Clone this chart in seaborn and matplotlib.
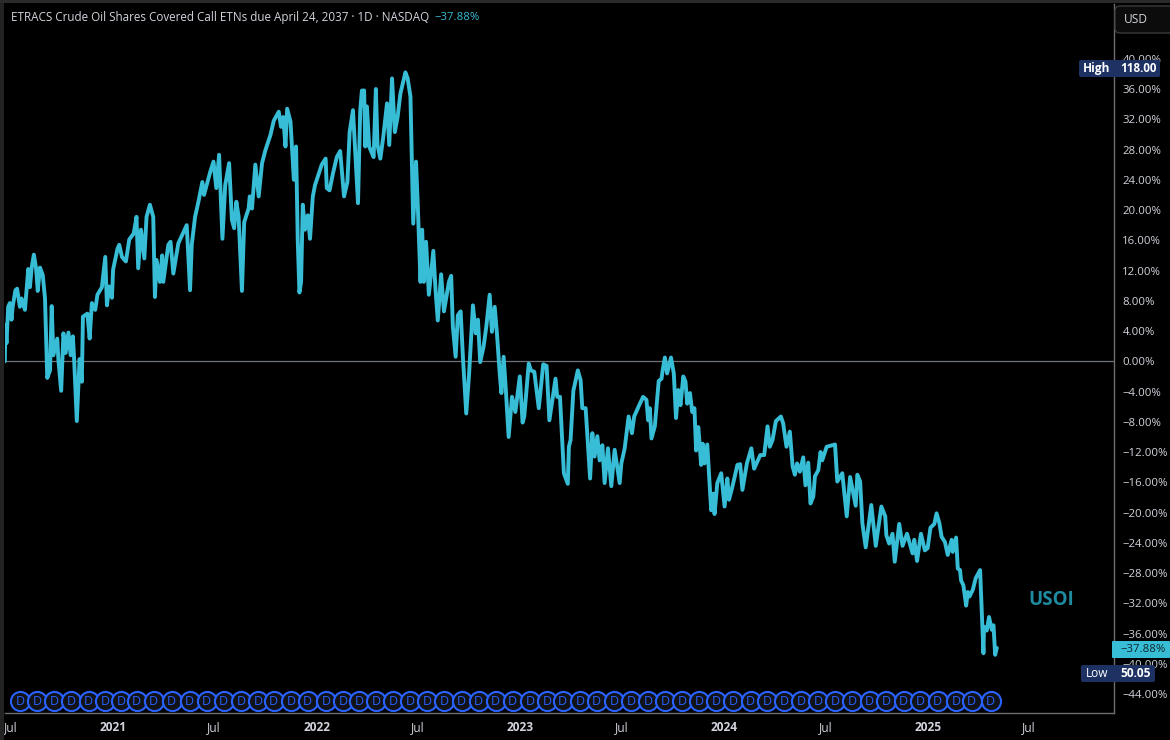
import pandas as pd
import matplotlib
matplotlib.use("Agg")
import matplotlib.pyplot as plt
import matplotlib.dates as mdates
from matplotlib.patches import FancyBboxPatch, Rectangle
from matplotlib.transforms import IdentityTransform
import seaborn as sns

# days since 2021-01-01
days = [-194,-193,-191,-188,-185,-182,-180,-175,-172,-167,-164,-158,-152,-149,-146,-142,-138,-135,-131,-126,-122,-118,-113,-110,-107,-100,-98,-93,-89,-85,-80,-76,-72,-70,-65,-60,-56,-54,-46,-42,-38,-32,-28,-20,-14,-11,-7,-2,0,8,11,16,23,29,
 37,42,45,50,56,60,66,72,75,78,84,88,90,99,103,108,117,132,138,141,147,153,160,163,174,180,185,190,196,201,208,213,217,221,225,231,235,243,245,249,255,261,267,273,282,288,297,301,305,309,312,318,324,328,331,334,
 337,340,344,349,353,358,362,374,381,383,388,394,401,407,414,420,424,430,439,443,446,450,452,455,459,464,467,471,474,479,484,491,495,500,505,510,515,524,528,533,538,543,546,551,554,557,561,566,
 574,578,582,588,593,602,606,609,614,618,623,627,633,638,645,650,654,658,664,669,675,679,684,688,693,696,700,704,709,715,721,729,734,737,745,749,755,763,771,777,782,793,796,801,808,815,817,820,825,833,838,841,847,855,859,863,868,872,877,881,887,893,899,908,911,917,924,930,934,943,950,956,959,962,965,971,978,
 983,985,989,993,1000,1005,1009,1013,1017,1022,1026,1029,1034,1038,1042,1045,1049,1054,1057,1060,1065,1068,1072,1076,1078,1083,1090,1096,1101,1104,1110,1119,1124,1128,1136,1144,1149,1160,1167,1173,1177,1182,1188,1197,1201,1207,1213,1218,1222,1226,1231,1237,1241,1246,1250,1255,1258,1264,
 1268,1271,1279,1294,1298,1307,1315,1321,1331,1334,1339,1343,1349,1359,1367,1377,1384,1386,1391,1397,1401,1409,1415,1423,1433,1436,1441,1448,1455,1460,1465,1472,1476,1481,1485,1491,1496,1503,1505,1511,1514,1518,1520,1524,1529,1532,1535,1541,1546,1554,1560,1561,1566,1570,1575,1578,1581,1584]

change_pct = [0,4.8,2.4,7.2,7.7,5.5,7.2,9.4,9.6,7.2,8.3,6.8,12.2,9.8,12.3,14.1,12.3,9.3,12.4,11.4,8.3,-2.2,-1.2,7.3,.8,3,.2,-3.9,3.7,1.1,3.8,.8,3.3,.6,-7.9,.3,-2.7,5.9,6.3,3,7.7,6.8,8.8,9.8,13.8,7.4,9.9,8.4,12.1,14.9,15.4,13.8,13.2,16.1,
 16.9,19.1,12.3,17.4,13.6,19.1,20.7,19.1,8.5,13.4,10.5,14,10.5,15.4,15.8,11.6,15.6,18,9.4,15.4,19.1,21.1,23.7,22,25,26.4,22.9,27.3,16.2,23.3,26.2,18.7,17.6,21.1,19.1,9.3,18.4,20.2,21.8,20.2,26,21.8,26.2,27.9,29.9,31.8,33,31,32.3,28.4,33.4,31.7,24,28.4,16,9.1,
 10.5,20.7,17.4,19.3,16.2,21.8,23.3,26,26.8,22.9,22.6,24.8,27,27.8,21.8,23.7,30.3,33.2,20.9,33.2,35.8,35.8,28.4,33.7,28.4,27.5,27,36,28.6,26.8,29.5,34.1,28.6,37.4,30.3,32.3,35.4,38.2,37.4,35,18.2,26.4,20.9,10.5,17.4,10.5,15.8,8.8,
 14.6,9.4,5.4,11.5,6.6,10.5,11.3,4.6,.6,6.1,6.6,.6,-6.9,-1.8,7.4,3.7,5.5,-.1,1.9,4.6,8.8,3.9,7.2,3.7,-1.6,-4.2,.6,-3.8,-10,-4.7,-6.7,-2,-8.1,-7.3,-.3,-1.2,-1.4,-6.2,-.4,-.6,-7.8,-2.3,-4.7,-4.7,-14.8,-16.2,-11.3,-10.4,-3.9,-1.2,-2.5,-6.2,-6.2,-15.5,-9.5,-12.6,-9.9,-13.1,-11.1,-16.1,-11.5,-16.5,-11.7,-16.1,-13.5,-11.5,-7.3,-9.5,-7.3,-5.8,-4.7,-5.1,-7.8,-6.2,-10.2,-8.6,-2.6,
 -2.3,-1.2,.5,-1.6,.5,-1.6,-7.5,-3.8,-5.8,-2,-2.7,-5.6,-4.2,-6.7,-6.2,-11.8,-8.7,-13.7,-10.9,-13.5,-11,-14.8,-19.7,-17.5,-20.2,-16.1,-14.8,-19.2,-15.5,-18.3,-16.6,-13.7,-13.6,-17,-13.5,-11.5,-14.2,-12.4,-12.4,-8.6,-11.3,-10.4,-7.9,-7.3,-8.2,-11.3,-9.3,-13.9,-15,-13.5,-14.6,-12.7,-16.4,-13.4,-18.8,-17.9,-15.2,-14.4,
 -12,-13.1,-11.3,-11,-15.9,-14.8,-20.5,-15.3,-19.1,-15,-15.9,-21.4,-24.6,-19,-24.4,-19.2,-20.5,-23,-24.1,-22.8,-26.5,-21.5,-24.4,-22.8,-25.4,-23.6,-26.4,-22.8,-25,-24.7,-22,-21.5,-20.1,-21.4,-23.2,-23.9,-25.6,-23.6,-25.2,-23.3,-27.4,-27.6,-29,-29.6,-32.3,-30.5,-31.1,-30.2,-28.7,-27.6,-38.6,-35.1,-35.6,-33.8,-35.5,-34.9,-38.8,-37.9]

dividend_dates = ["2020-07-18","2020-08-18","2020-09-18","2020-10-18","2020-11-18","2020-12-18",
 "2021-01-15","2021-02-12","2021-03-15","2021-04-16","2021-05-18","2021-06-18","2021-07-18","2021-08-18","2021-09-18","2021-10-16","2021-11-16","2021-12-16",
 "2022-01-18","2022-02-18","2022-03-18","2022-04-18","2022-05-18","2022-06-18","2022-07-18","2022-08-18","2022-09-18","2022-10-18","2022-11-18","2022-12-18",
 "2023-01-18","2023-02-18","2023-03-18","2023-04-18","2023-05-18","2023-06-18","2023-07-18","2023-08-18","2023-09-18","2023-10-18","2023-11-18","2023-12-18",
 "2024-01-18","2024-02-18","2024-03-18","2024-04-18","2024-05-18","2024-06-18","2024-07-18","2024-08-18","2024-09-18","2024-10-18","2024-11-18","2024-12-18",
 "2025-01-18","2025-02-20","2025-03-20","2025-04-23"]
dividend_level = -44.9

x_tick_dates = ["2020-07-01","2021-01-01","2021-07-01","2022-01-01","2022-07-01","2023-01-01","2023-07-01","2024-01-01","2024-07-01","2025-01-01","2025-07-01"]
x_tick_labels = ["Jul","2021","Jul","2022","Jul","2023","Jul","2024","Jul","2025","Jul"]
y_ticks = list(range(-44, 44, 4))
title = "ETRACS Crude Oil Shares Covered Call ETNs due April 24, 2037 · 1D · NASDAQ"
last_label = "−37.88%"

W, H = 1170, 740
FONT = ["Open Sans", "DejaVu Sans"]
LINE = "#38bdd6"
TXT = "#d1d4dc"
sns.set_theme(style="dark", rc={"axes.facecolor": "black", "figure.facecolor": "black"})
plt.rcParams["font.family"] = FONT

fig = plt.figure(figsize=(W/100, H/100), dpi=100, facecolor="black")
ax = fig.add_axes([5/W, 1-713/H, (1114-5)/W, (713-4)/H], facecolor="black")

dates = pd.Timestamp("2021-01-01") + pd.to_timedelta(days, unit="D")
df = pd.DataFrame({"date": dates, "pct": change_pct})
ax.axhline(0, color="#6f7178", lw=0.9, zorder=1)
sns.lineplot(data=df, x="date", y="pct", ax=ax, color=LINE, lw=2.8, sort=False, estimator=None, zorder=3,
             solid_joinstyle="round")

div = pd.DataFrame({"date": pd.to_datetime(dividend_dates), "y": dividend_level})
sns.scatterplot(data=div, x="date", y="y", ax=ax, s=190, facecolor="#111318", edgecolor="#2962ff", linewidth=1.5, zorder=4, clip_on=False)
for d in div["date"]:
    ax.text(d, dividend_level - 0.03, "D", color="#2962ff", fontsize=9, ha="center", va="center", zorder=5)

t0 = pd.Timestamp("2021-01-01")
ax.set_xlim(t0 - pd.Timedelta(days=193.7), t0 + pd.Timedelta(days=1794))
ax.set_ylim(-46.5, 47.24)
ax.set_xlabel(""); ax.set_ylabel("")
ax.grid(False)

ax.set_xticks(mdates.date2num(pd.to_datetime(x_tick_dates)))
ax.set_xticklabels(x_tick_labels, fontsize=8.6, color=TXT)
for lab, s in zip(ax.get_xticklabels(), x_tick_labels):
    lab.set_fontweight("bold" if s.isdigit() else "normal")
ax.tick_params(axis="x", length=0, pad=6)
ax.yaxis.tick_right()
ax.set_yticks(y_ticks)
ax.set_yticklabels([f"{v:.2f}%".replace("-", "−") for v in y_ticks], fontsize=8.2, color=TXT)
ax.tick_params(axis="y", length=0, pad=6)
for s in ["top", "left"]:
    ax.spines[s].set_visible(False)
for s in ["right", "bottom"]:
    ax.spines[s].set_color("#6c6e72"); ax.spines[s].set_linewidth(1.0); ax.spines[s].set_visible(True)

def fx(x): return x / W
def fy(y): return 1 - y / H
def box(x0, y0, x1, y1, fc, ec="none", r=2, z=6):
    p = FancyBboxPatch((x0, H - y1), x1 - x0, y1 - y0, boxstyle=f"round,pad=0,rounding_size={r}",
                       fc=fc, ec=ec, lw=1, zorder=z, transform=IdentityTransform())
    fig.add_artist(p)
    p.set_transform(IdentityTransform())
def txt(x, y, s, color=TXT, size=8.2, ha="left", **kw):
    fig.text(fx(x), fy(y), s, color=color, fontsize=size, ha=ha, va="center", zorder=8, **kw)

# frame bars
fig.add_artist(Rectangle((0, 0), 4/W, 1, transform=fig.transFigure, fc="#232323", ec="none", zorder=7))
fig.add_artist(Rectangle((0, 1-3/H), 1, 3/H, transform=fig.transFigure, fc="#2a2a2a", ec="none", zorder=7))

txt(11, 17, title, size=8.4)
txt(434, 17, last_label, color="#38bdd6", size=8.2)
box(1115, 6, 1175, 33, "#0c0c0c", ec="#3a3a3a", r=5)
txt(1124, 19.5, "USD", size=8.6)

box(1079, 60, 1160, 77, "#1d3163")
txt(1083, 68.5, "High", color="#ffffff", size=8.6, fontweight="bold")
txt(1120, 68.5, "118.00", color="#ffffff", size=8.4, fontweight="bold")
box(1081, 665, 1155, 682, "#1d3163")
txt(1086, 673.5, "Low", color="#ffffff", size=8.6)
txt(1120, 673.5, "50.05", color="#ffffff", size=8.6, fontweight="bold")
box(1112, 641, 1170, 658, LINE, r=1)
txt(1120, 649.5, last_label, color="#10242a", size=8.2)
txt(1028, 600, "USOI", color="#1f8ba0", size=13.5, fontweight="bold")

fig.savefig("out.png", dpi=100, facecolor="black")
